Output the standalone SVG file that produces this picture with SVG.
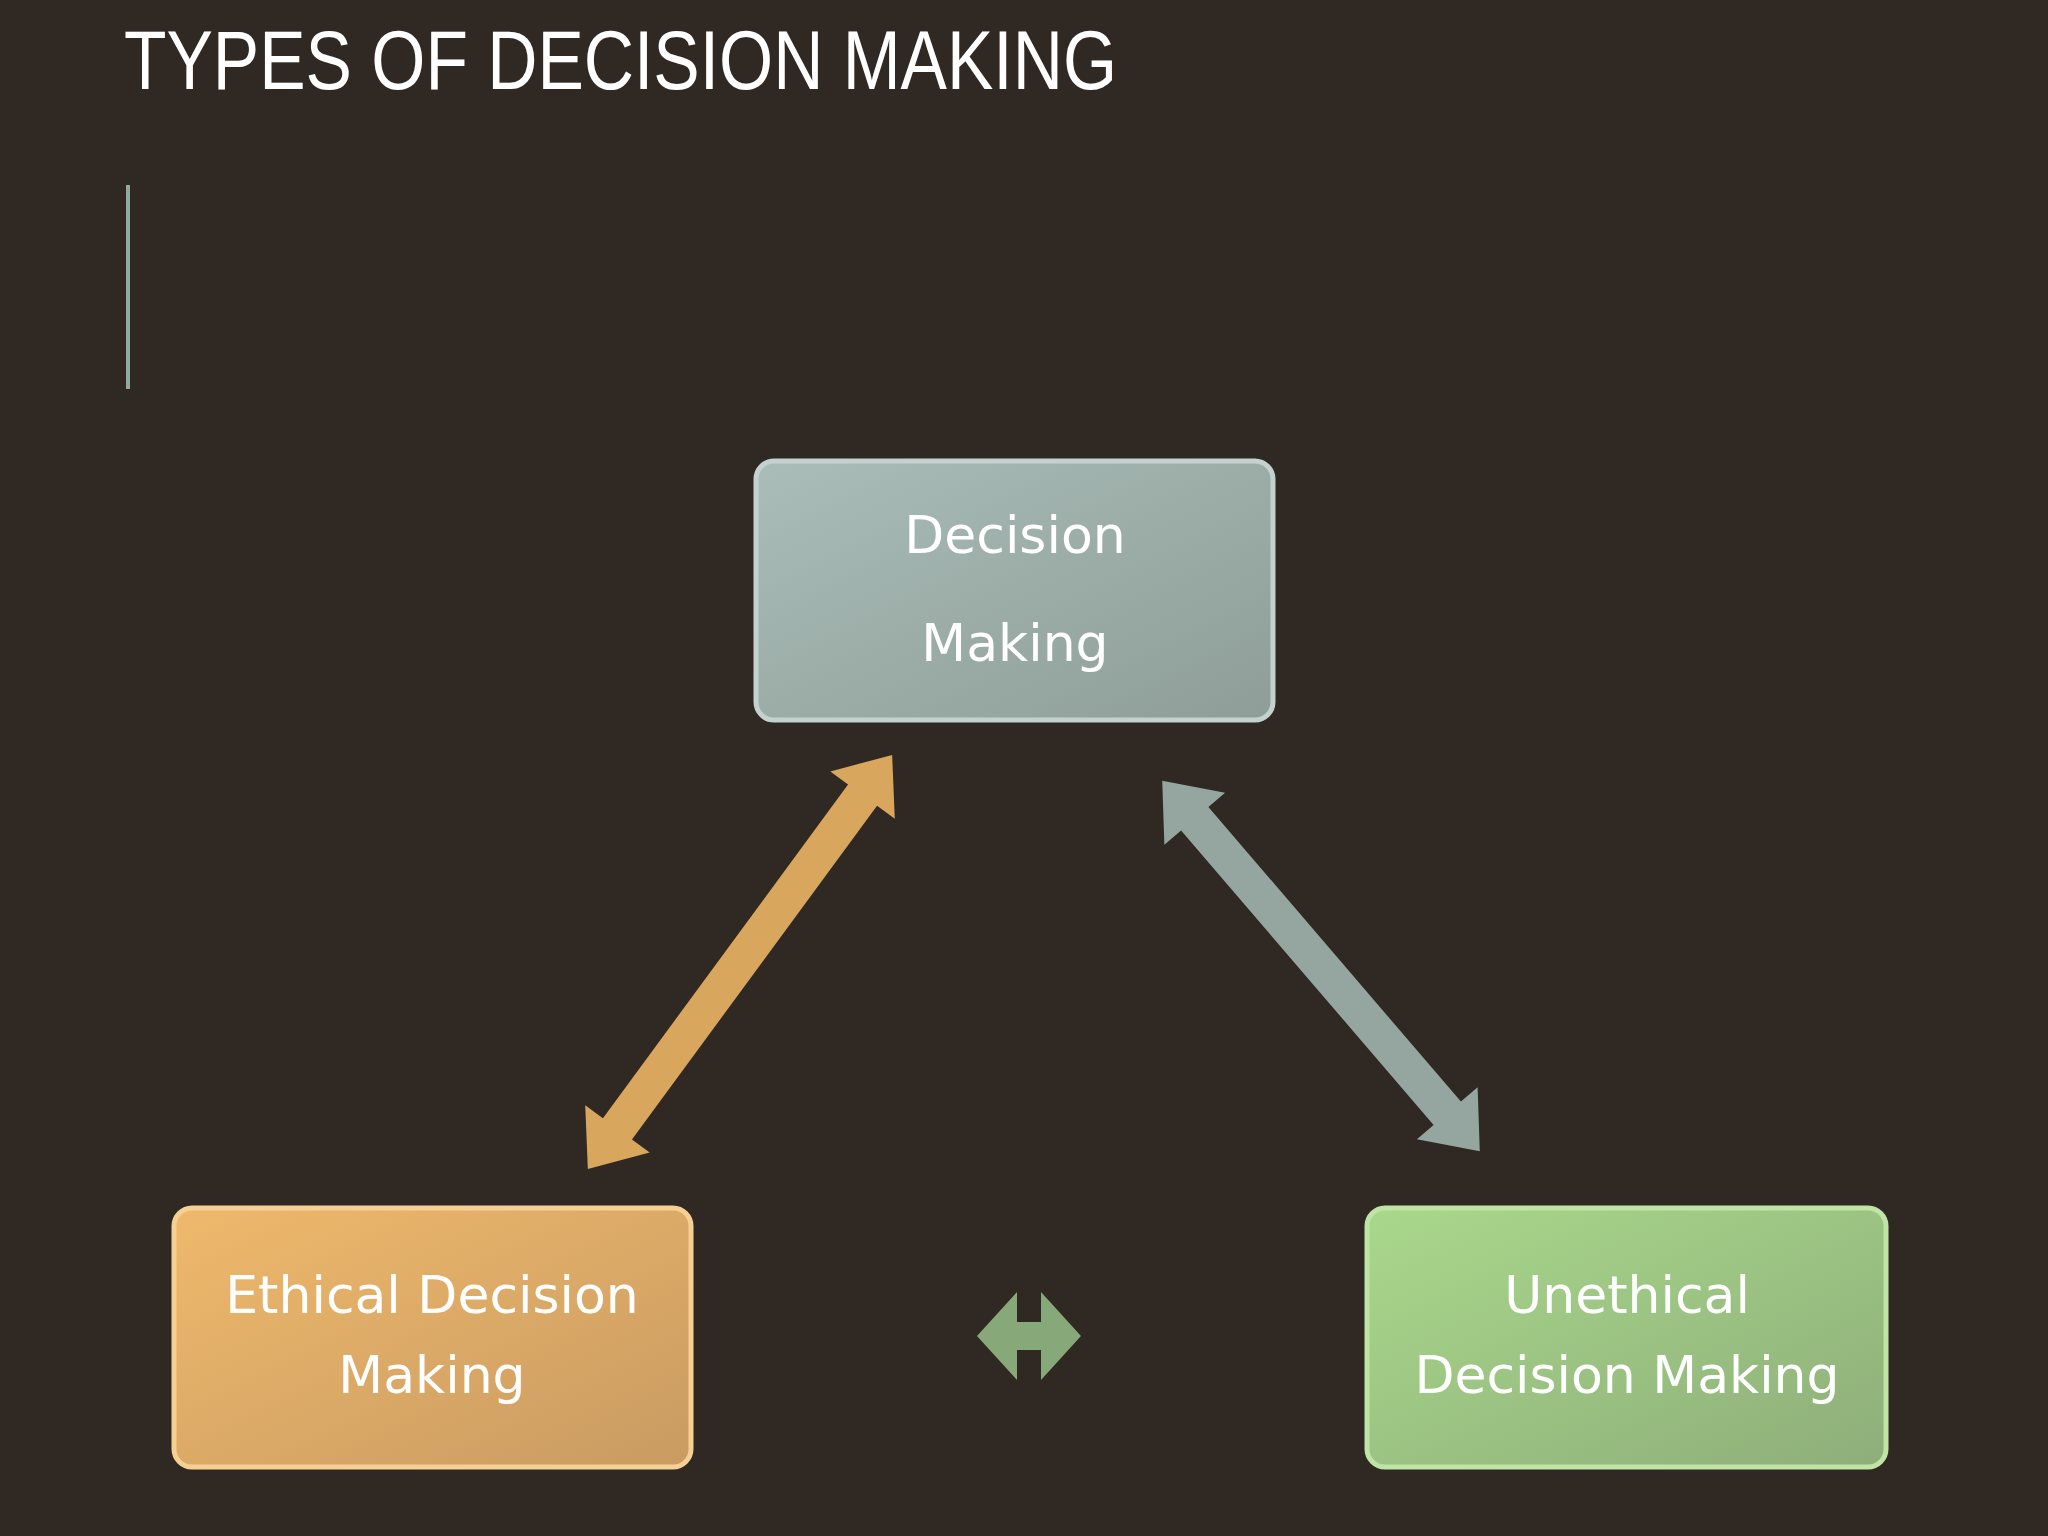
<svg xmlns="http://www.w3.org/2000/svg" width="2048" height="1536" viewBox="0 0 2048 1536">
<defs>
<linearGradient id="gTop" x1="0" y1="0" x2="1" y2="1"><stop offset="0" stop-color="#aabdb8"/><stop offset="1" stop-color="#8e9d98"/></linearGradient>
<linearGradient id="gOr" x1="0" y1="0" x2="1" y2="1"><stop offset="0" stop-color="#efb96c"/><stop offset="1" stop-color="#c99b62"/></linearGradient>
<linearGradient id="gGr" x1="0" y1="0" x2="1" y2="1"><stop offset="0" stop-color="#a9d88b"/><stop offset="1" stop-color="#8eae7a"/></linearGradient>
<style>
.box{stroke-width:5}
.lbl{font-family:"DejaVu Sans",sans-serif;font-size:52px;fill:#ffffff;text-anchor:middle}
</style>
</defs>
<rect width="2048" height="1536" fill="#2f2823"/>
<text x="124" y="89" font-family="Liberation Sans,Arial,sans-serif" font-size="84" fill="#ffffff" textLength="993" lengthAdjust="spacingAndGlyphs">TYPES OF DECISION MAKING</text>
<line x1="128" y1="185" x2="128" y2="389" stroke="#8fa8a0" stroke-width="4"/>
<g id="connectors">
<polygon transform="translate(740,962) rotate(-53.7)" fill="#d9a65e" points="-257,0 -207,-40 -207,-18 207,-18 207,-40 257,0 207,40 207,18 -207,18 -207,40"/>
<polygon transform="translate(1321,966) rotate(49.4)" fill="#95a59f" points="-244,0 -194,-40 -194,-18 194,-18 194,-40 244,0 194,40 194,18 -194,18 -194,40"/>
<polygon transform="translate(1029,1336)" fill="#87a979" points="-52,0 -12,-44 -12,-14 12,-14 12,-44 52,0 12,44 12,14 -12,14 -12,44"/>
</g>
<g id="top">
<rect class="box" x="756" y="461" width="517" height="259" rx="18" fill="url(#gTop)" stroke="#c3d2ce"/>
<text class="lbl" x="1015" y="553">Decision</text>
<text class="lbl" x="1015" y="661">Making</text>
</g>
<g id="left">
<rect class="box" x="174" y="1208" width="517" height="259" rx="18" fill="url(#gOr)" stroke="#f5cf94"/>
<text class="lbl" x="432" y="1313">Ethical Decision</text>
<text class="lbl" x="432" y="1393">Making</text>
</g>
<g id="right">
<rect class="box" x="1367" y="1208" width="519" height="259" rx="18" fill="url(#gGr)" stroke="#bfe4a6"/>
<text class="lbl" x="1627" y="1313">Unethical</text>
<text class="lbl" x="1627" y="1393">Decision Making</text>
</g>
</svg>
